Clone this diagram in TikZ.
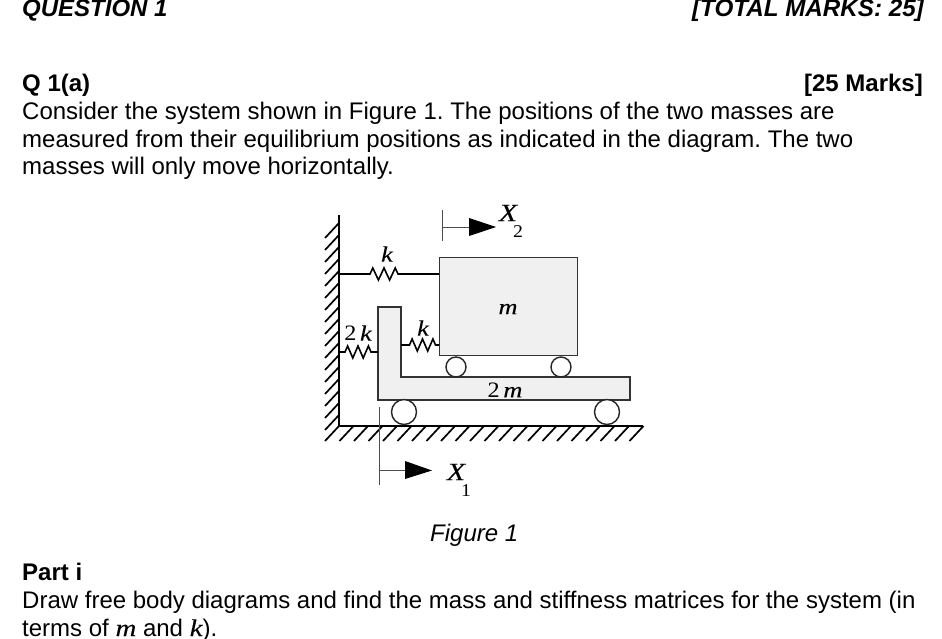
\documentclass[tikz,border=0pt]{standalone}
\usepackage{fontspec}
\setmainfont{Liberation Sans}
\newfontface\labfont{Liberation Serif Italic}[FakeStretch=1.2,FakeBold=0.05]
\newfontface\numfont{Liberation Serif}[FakeStretch=1.1]
\newcommand{\fs}[1]{\fontsize{#1}{#1}\selectfont}
\begin{document}
\begin{tikzpicture}[x=1pt,y=-1pt,
  txt/.style={anchor=base west,inner sep=0pt,font=\fs{24}},
  btxt/.style={anchor=base west,inner sep=0pt,font=\fs{24}\bfseries},
  btxtr/.style={anchor=base east,inner sep=0pt,font=\fs{24}\bfseries},
  block/.style={draw=black!80,fill=black!6,line width=1.4pt},
  wheel/.style={draw=black!85,fill=white,circle,line width=1.4pt,inner sep=0pt},
  wallline/.style={line width=2.2pt,line cap=butt},
  hatch/.style={line width=1.7pt},
  springline/.style={line width=1.6pt,line join=miter},
  tick/.style={draw=black!70,line width=1pt},
  tipshape/.style={fill=black,draw=none},
  lab/.style={inner sep=0pt,font=\fs{22}\labfont},
  sub/.style={inner sep=0pt,font=\fs{18}\numfont}]
\useasboundingbox (0,0) rectangle (942,639);
\fill[white] (0,0) rectangle (942,639);
% texts
\frenchspacing
\node[btxt,font=\fs{24}\bfseries\itshape] (t1) at (22,17) {QUESTION 1};
\node[btxtr,font=\fs{24.2}\bfseries\itshape] (t2) at (924,17) {[TOTAL MARKS: 25]};
\node[btxt] (t3) at (22,92) {Q 1(a)};
\node[btxtr] (t4) at (923,92) {[25 Marks]};
\node[txt] (t5) at (22,119.7) {Consider the system shown in Figure 1. The positions of the two masses are};
\node[txt] (t6) at (22,147.5) {measured from their equilibrium positions as indicated in the diagram. The two};
\node[txt] (t7) at (22,174.7) {masses will only move horizontally.};
\node[txt,font=\fs{24}\itshape] (t8) at (430,541) {Figure 1};
\node[btxt] (t9) at (22,580) {Part i};
\node[txt] (t10) at (22,608) {Draw free body diagrams and find the mass and stiffness matrices for the system (in};
\node[txt] (t11) at (22,636) {terms of {\labfont m} and {\labfont k}).};
% wall and ground
\coordinate (wallTop) at (339,215);
\coordinate (corner) at (339,426);
\coordinate (groundEnd) at (643,426);
\foreach \y in {223,235,...,415} \draw[hatch] (339,\y) -- ++(-14,15);
\foreach \x in {339,353.5,...,645} \draw[hatch] (\x,426) -- ++(-14,15);
\draw[wallline] (wallTop) -- (corner) -- (groundEnd);
% bodies
\node[block,anchor=north west,minimum width=138pt,minimum height=98pt,inner sep=0pt] (m) at (439,257) {};
\node[lab] (lm1) at (508,309) {m};
\draw[block] (378,307) coordinate (Ltl) -- (401,307) -- (401,377) -- (630,377) -- (630,400) -- (378,400) -- cycle;
\node[lab] (lm) at (505,390) {{\fs{22}\numfont 2}\,m};
\node[wheel,minimum size=20pt] (w1) at (456,367) {};
\node[wheel,minimum size=20pt] (w2) at (561,367) {};
\node[wheel,minimum size=25pt] (w3) at (404,412) {};
\node[wheel,minimum size=25pt] (w4) at (607,412) {};
% springs
\coordinate (s1a) at (340,274);
\coordinate (s1b) at (m.west |- s1a);
\draw[springline] (s1a) -- ++(30,0) -- ++(2.8,-6) -- ++(5.6,12) -- ++(5.6,-12) -- ++(5.6,12) -- ++(5.6,-12) -- ++(2.8,6) -- (s1b);
\coordinate (s2a) at (340,352);
\coordinate (s2b) at (378,352);
\draw[springline] (s2a) -- ++(5,0) -- ++(2.6,-6) -- ++(5.2,12) -- ++(5.2,-12) -- ++(5.2,12) -- ++(5.2,-12) -- ++(2.6,6) -- (s2b);
\coordinate (s3a) at (401,345);
\coordinate (s3b) at (m.west |- s3a);
\draw[springline] (s3a) -- ++(8.5,0) -- ++(2.6,-6) -- ++(5.2,12) -- ++(5.2,-12) -- ++(5.2,12) -- ++(5.2,-12) -- ++(2.6,6) -- (s3b);
\node[lab] (k1) at (387,254) {k};
\node[lab] (k2) at (358,333) {{\fs{22}\numfont 2}\,k};
\node[lab] (k3) at (423,328) {k};
% X2
\coordinate (x2a) at (442,210);
\coordinate (x2b) at (442,241);
\coordinate (x2c) at (442,227);
\draw[tick] (x2a) -- (x2b);
\draw[tick] (x2c) -- (470,227);
\fill[tipshape] (469,218) -- (496,227) -- (469,236) -- cycle;
\node[lab,font=\fs{25}\labfont] (X2) at (508,213) {X};
\node[sub] (n2) at (518,232) {2};
% X1
\coordinate (x1a) at (379,407);
\coordinate (x1b) at (379,485);
\coordinate (x1c) at (379,470);
\draw[tick] (x1a) -- (x1b);
\draw[tick] (x1c) -- (406,470);
\fill[tipshape] (405,461) -- (432,470.5) -- (405,479) -- cycle;
\node[lab,font=\fs{25}\labfont] (X1) at (456,472) {X};
\node[sub] (n1) at (466,491) {1};
\end{tikzpicture}
\end{document}
